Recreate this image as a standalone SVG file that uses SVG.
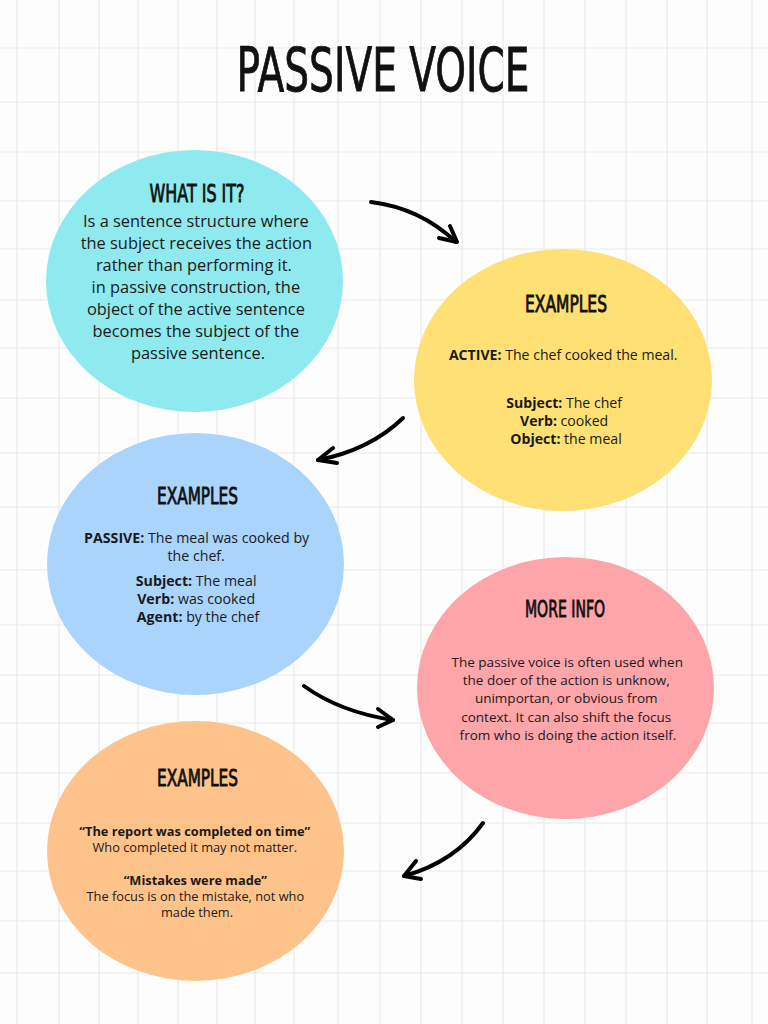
<svg xmlns="http://www.w3.org/2000/svg" width="768" height="1024" viewBox="0 0 768 1024">
<style>
.grid line{stroke:#e9e9e9;stroke-width:1.2}
.h{font-family:"DejaVu Sans","Liberation Sans",sans-serif;fill:#111;text-anchor:middle;stroke:#111;stroke-width:0.9}
.b{font-family:"Open Sans","Noto Sans",sans-serif;fill:#1a1a1a;text-anchor:middle}
.bb{font-weight:bold}
.arr{fill:none;stroke:#000;stroke-width:4;stroke-linecap:round;stroke-linejoin:round}
</style>
<rect width="768" height="1024" fill="#fdfdfd"/>
<g class="grid">
<line x1="17" y1="0" x2="17" y2="1024"/><line x1="59" y1="0" x2="59" y2="1024"/><line x1="99" y1="0" x2="99" y2="1024"/><line x1="138" y1="0" x2="138" y2="1024"/><line x1="178" y1="0" x2="178" y2="1024"/><line x1="217" y1="0" x2="217" y2="1024"/><line x1="255" y1="0" x2="255" y2="1024"/><line x1="294" y1="0" x2="294" y2="1024"/><line x1="338" y1="0" x2="338" y2="1024"/><line x1="380" y1="0" x2="380" y2="1024"/><line x1="421" y1="0" x2="421" y2="1024"/><line x1="462" y1="0" x2="462" y2="1024"/><line x1="503" y1="0" x2="503" y2="1024"/><line x1="544" y1="0" x2="544" y2="1024"/><line x1="585" y1="0" x2="585" y2="1024"/><line x1="626" y1="0" x2="626" y2="1024"/><line x1="667" y1="0" x2="667" y2="1024"/><line x1="707" y1="0" x2="707" y2="1024"/><line x1="752" y1="0" x2="752" y2="1024"/>
<line x1="0" y1="48" x2="768" y2="48"/><line x1="0" y1="102" x2="768" y2="102"/><line x1="0" y1="152" x2="768" y2="152"/><line x1="0" y1="201" x2="768" y2="201"/><line x1="0" y1="249" x2="768" y2="249"/><line x1="0" y1="300" x2="768" y2="300"/><line x1="0" y1="348" x2="768" y2="348"/><line x1="0" y1="398" x2="768" y2="398"/><line x1="0" y1="453" x2="768" y2="453"/><line x1="0" y1="507" x2="768" y2="507"/><line x1="0" y1="570" x2="768" y2="570"/><line x1="0" y1="625" x2="768" y2="625"/><line x1="0" y1="675" x2="768" y2="675"/><line x1="0" y1="723" x2="768" y2="723"/><line x1="0" y1="773" x2="768" y2="773"/><line x1="0" y1="823" x2="768" y2="823"/><line x1="0" y1="871" x2="768" y2="871"/><line x1="0" y1="921" x2="768" y2="921"/><line x1="0" y1="973" x2="768" y2="973"/>
</g>
<text class="h" x="383" y="91" font-size="61" textLength="293" lengthAdjust="spacingAndGlyphs" stroke-width="2.6">PASSIVE VOICE</text>

<g id="what-is-it">
<ellipse cx="194.5" cy="281" rx="148.5" ry="131" fill="#8eeaee"/>
<text class="h" x="197" y="202" font-size="25" textLength="95" lengthAdjust="spacingAndGlyphs">WHAT IS IT?</text>
<text class="b" font-size="16.4">
<tspan x="198" y="227">Is a sentence structure where</tspan>
<tspan x="198.5" y="249">the subject receives the action</tspan>
<tspan x="196" y="271">rather than performing it.</tspan>
<tspan x="198" y="293">in passive construction, the</tspan>
<tspan x="198" y="315">object of the active sentence</tspan>
<tspan x="198" y="337">becomes the subject of the</tspan>
<tspan x="198" y="359">passive sentence.</tspan>
</text>
</g>

<g id="examples-active">
<ellipse cx="563" cy="380" rx="149" ry="131" fill="#fee074"/>
<text class="h" x="566" y="312" font-size="23" textLength="82" lengthAdjust="spacingAndGlyphs">EXAMPLES</text>
<text class="b" font-size="14.1">
<tspan x="565" y="360"><tspan class="bb">ACTIVE:</tspan> The chef cooked the meal.</tspan>
<tspan x="566" y="408"><tspan class="bb">Subject:</tspan> The chef</tspan>
<tspan x="566" y="426"><tspan class="bb">Verb:</tspan> cooked</tspan>
<tspan x="566" y="444"><tspan class="bb">Object:</tspan> the meal</tspan>
</text>
</g>

<g id="examples-passive">
<ellipse cx="195.5" cy="564" rx="148.5" ry="131" fill="#aad4fc"/>
<text class="h" x="197.5" y="504" font-size="23" textLength="81" lengthAdjust="spacingAndGlyphs">EXAMPLES</text>
<text class="b" font-size="14.2">
<tspan x="198.5" y="543"><tspan class="bb">PASSIVE:</tspan> The meal was cooked by</tspan>
<tspan x="198" y="561">the chef.</tspan>
<tspan x="198" y="586"><tspan class="bb">Subject:</tspan> The meal</tspan>
<tspan x="198" y="604"><tspan class="bb">Verb:</tspan> was cooked</tspan>
<tspan x="198" y="622"><tspan class="bb">Agent:</tspan> by the chef</tspan>
</text>
</g>

<g id="more-info">
<ellipse cx="565.5" cy="688" rx="148.5" ry="131" fill="#fea5a9"/>
<text class="h" x="565" y="617" font-size="23" textLength="80" lengthAdjust="spacingAndGlyphs">MORE INFO</text>
<text class="b" font-size="13.5">
<tspan x="569" y="667">The passive voice is often used when</tspan>
<tspan x="568" y="685">the doer of the action is unknow,</tspan>
<tspan x="568" y="703">unimportan, or obvious from</tspan>
<tspan x="568" y="722">context. It can also shift the focus</tspan>
<tspan x="568" y="740">from who is doing the action itself.</tspan>
</text>
</g>

<g id="examples-more">
<ellipse cx="195.5" cy="851" rx="148.5" ry="130" fill="#fec38a"/>
<text class="h" x="197.5" y="786" font-size="23" textLength="81" lengthAdjust="spacingAndGlyphs">EXAMPLES</text>
<text class="b" font-size="12.8">
<tspan x="196.5" y="836" class="bb">“The report was completed on time”</tspan>
<tspan x="196.5" y="852">Who completed it may not matter.</tspan>
<tspan x="197" y="885" class="bb">“Mistakes were made”</tspan>
<tspan x="197" y="901">The focus is on the mistake, not who</tspan>
<tspan x="197" y="917">made them.</tspan>
</text>
</g>

<g id="connectors">
<path class="arr" d="M371 202 Q420 208 456 242"/>
<path class="arr" d="M450 226 L457 242 L439 238"/>
<path class="arr" d="M403 418 Q370 450 318 460"/>
<path class="arr" d="M333 448 L318 460 L337 463"/>
<path class="arr" d="M304 686 Q340 712 393 720"/>
<path class="arr" d="M378 709 L393 720 L378 727"/>
<path class="arr" d="M483 823 Q455 862 404 876"/>
<path class="arr" d="M416 861 L404 876 L421 879"/>
</g>
</svg>
